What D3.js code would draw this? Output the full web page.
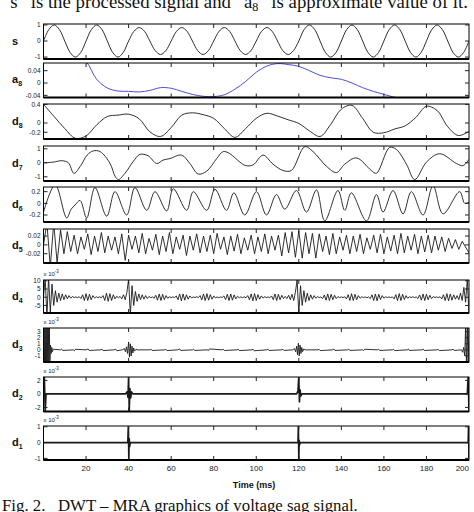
<!DOCTYPE html>
<html>
<head>
<meta charset="utf-8">
<script src="https://cdn.jsdelivr.net/npm/d3@7"></script>
<style>
  body { margin: 0; background: #fff; }
  svg { display: block; }
</style>
</head>
<body>
<div id="chart"></div>
<script>
// ---------- data ----------
// time axis (ms)
var xTicks = [20, 40, 60, 80, 100, 120, 140, 160, 180, 200];

// s : sampled every 2.5 ms, sag from 40 to 120 ms
var sStep = 2.5;
var sValues = [
  0, .71, 1, .71, 0, -.71, -1, -.71,
  0, .71, 1, .71, 0, -.71, -1, -.71,
  0, .6, .84, .6, 0, -.6, -.84, -.6,
  0, .6, .84, .6, 0, -.6, -.84, -.6,
  0, .6, .84, .6, 0, -.6, -.84, -.6,
  0, .6, .84, .6, 0, -.6, -.84, -.6,
  0, .71, 1, .71, 0, -.71, -1, -.71,
  0, .71, 1, .71, 0, -.71, -1, -.71,
  0, .71, 1, .71, 0, -.71, -1, -.71,
  0, .71, 1, .71, 0, -.71, -1, -.71,
  0
];
var sTicks = [1, 0, -1];

// a8 : every 5 ms
var a8Step = 5;
var a8Values = [0.2, 0.16, 0.12, 0.09, 0.07, 0.012, -0.016, -0.026, -0.027, -0.029,
  -0.024, -0.015, -0.017, -0.027, -0.037, -0.043, -0.044, -0.038, -0.02, 0.005,
  0.035, 0.055, 0.063, 0.06, 0.054, 0.04, 0.025, 0.017, 0.012, 0.0,
  -0.015, -0.027, -0.037, -0.046, -0.05, -0.052, -0.052, -0.052, -0.052, -0.051, -0.045];
var a8Ticks = [0.04, 0, -0.04];

// d8 : every 5 ms
var d8Step = 5;
var d8Values = [0.40, 0.14, -0.12, -0.33, -0.28, -0.04, 0.14, 0.17, 0.19, 0.09,
  -0.19, -0.29, -0.1, 0.17, 0.22, 0.18, 0.1, -0.12, -0.31, -0.12,
  0.1, 0.21, 0.15, 0.07, -0.01, -0.17, -0.29, -0.03, 0.3, 0.38,
  0.1, -0.2, -0.21, -0.13, -0.06, 0.12, 0.36, 0.27, -0.08, -0.27, -0.18];
var d8Ticks = [0.4, 0, -0.2];

// d7 : [ms, value]
var d7Points = [[0, 0], [4.7, 0.05], [8.6, 0.15], [11.7, 0], [14.3, -0.75], [17.5, -0.2], [20.5, 0.55],
  [23.4, 0.85], [26.6, 0.8], [31.3, -0.05], [33.6, -0.95], [35.2, -1.2], [38.3, -0.75], [42.2, 0.1],
  [45.3, 0.6], [49.2, 0.5], [53.2, -0.05], [56.3, 0.2], [59.4, 0.3], [64.9, 0.55], [68.8, -0.05],
  [72.7, -0.8], [76.7, -0.6], [81.4, 0.3], [84.5, 0.8], [87.6, 0.65], [92.3, 0.05], [95, -0.2],
  [98.5, -0.15], [103.2, 0.55], [107.9, -0.1], [112.6, -0.55], [116.5, -0.55], [122.8, 1.15],
  [126.7, 0.8], [133, -0.25], [137.7, -0.7], [141.6, -0.1], [147.1, 0.35], [154.1, -0.55],
  [156.5, -0.75], [162.7, 1.1], [165.9, 0.95], [170.6, -0.1], [174.5, -1.2], [180, 0.05],
  [186.2, 0.65], [194.1, -0.05], [197.2, -0.2], [200, 0.25]];
var d7Ticks = [1, 0, -1];

// d6 : [ms, value]
var d6Points = [[0, -0.15], [5.5, 0.32], [10.9, -0.25], [13, -0.1], [14.8, -0.03], [17.2, 0.05],
  [20.3, -0.25], [24.2, 0.27], [29.7, -0.22], [33.6, 0.2], [39.1, -0.2], [43, 0.27], [48.5, -0.12],
  [52.4, 0.2], [57.9, -0.13], [61, 0.25], [67.3, -0.12], [70.4, 0.2], [76.7, -0.12], [80.6, 0.24],
  [86, -0.12], [89.5, 0.18], [94.6, -0.2], [100.1, 0.2], [104.8, -0.2], [109.5, 0.15], [113.4, -0.1],
  [118.9, 0.22], [123.6, -0.15], [128.3, 0.23], [132.2, -0.3], [138.4, 0.22], [141.6, -0.12],
  [144.7, 0.18], [151.8, -0.3], [156.5, 0.15], [159.6, -0.15], [164.3, 0.22], [169, -0.18],
  [172.9, 0.2], [178.4, -0.2], [183.1, 0.3], [187.8, -0.18], [195.6, 0.2], [198, 0.0], [200, 0.02]];
var d6Ticks = [0.2, 0, -0.2];

// d5 : every 1.6 ms (peaks / troughs)
var d5Step = 1.6;
var d5Values = [0, 0.05, -0.05, 0.05, -0.04, 0.034, -0.02, 0.03, -0.015, 0.022,
  -0.02, 0.018, -0.01, 0.025, -0.022, 0.02, -0.015, 0.028, -0.018, 0.02,
  -0.012, 0.018, -0.02, 0.025, -0.035, 0.022, -0.01, 0.02, -0.018, 0.026,
  -0.02, 0.015, -0.012, 0.024, -0.022, 0.02, -0.015, 0.028, -0.02, 0.018,
  -0.01, 0.022, -0.024, 0.02, -0.012, 0.025, -0.018, 0.02, -0.015, 0.022,
  -0.02, 0.026, -0.01, 0.018, -0.022, 0.02, -0.014, 0.024, -0.02, 0.016,
  -0.012, 0.022, -0.02, 0.018, -0.015, 0.025, -0.02, 0.02, -0.012, 0.022,
  -0.025, 0.028, -0.018, 0.03, -0.028, 0.032, -0.03, 0.028, -0.02, 0.026,
  -0.03, 0.025, -0.015, 0.02, -0.022, 0.026, -0.02, 0.018, -0.012, 0.022,
  -0.02, 0.02, -0.015, 0.024, -0.02, 0.016, -0.01, 0.022, -0.018, 0.024,
  -0.02, 0.018, -0.014, 0.022, -0.02, 0.026, -0.018, 0.02, -0.012, 0.024,
  -0.02, 0.02, -0.016, 0.022, -0.018, 0.02, -0.012, 0.018, -0.015, 0.015,
  -0.008, 0.012, -0.01, 0.008, -0.005, -0.018];
var d5Ticks = [0.02, 0, -0.02];

// d4 : every 0.8 ms, in units of 1e-3
var d4Step = 0.8;
var d4Values = [0, 12, -12, 12, -9, 8, -5, 4, -3, 2.5, -2, 2, -1.5, 1.5, -1, 1, -0.6, 0.5,
  -0.2, 0.2, -0.2, 0.3,
  -0.8, 1.5, -2, 2.2, -2, 1.8, -1.5, 1, -0.5, 0.3,
  -0.2, 0.2, -0.3,
  1, -2, 2.5, -2.5, 2.2, -2, 1.5, -1, 0.6, -0.3,
  0.5, -1, 1.5, -1.5,
  3, 11, -11, 7, -5, 3.5, -2.5, 2, -1.5,
  1.5, -1.2, 1, -0.8, 0.5, -0.3, 0.2,
  -0.6, 1.2, -1.8, 2, -2, 1.8, -1.5, 1, -0.6, 0.3,
  -0.2, 0.2, -0.2,
  0.8, -1.5, 2, -2.2, 2, -1.8, 1.5, -1.2, 0.8, -0.4, 0.2,
  -0.2, 0.3, -0.2,
  1, -1.6, 2, -2, 2.2, -1.8, 1.6, -1.2, 0.8, -0.4, 0.2,
  -0.3, 0.2, -0.2,
  0.8, -1.4, 1.8, -2, 2, -1.8, 1.4, -1, 0.6, -0.3, 0.2,
  -0.2, 0.2, -0.3,
  1, -1.5, 2, -2.2, 2.2, -2, 1.6, -1.2, 0.8, -0.5, 0.3,
  -0.2, 0.2, -0.3,
  0.8, -1.5, 2, -2, 1.8, -1.5, 1.2, -0.8, 0.5,
  -0.8, 1.2, -1.5, 1.8, -2,
  3, 10.5, -10, 7, -5, 4, -3, 2.5, -2,
  1.5, -1.2, 1, -0.6, 0.4, -0.2, 0.2,
  -0.8, 1.4, -1.8, 2, -2, 1.8, -1.5, 1.2, -0.8, 0.4, -0.2,
  0.2, -0.2, 0.3,
  -1, 1.6, -2, 2.2, -2, 1.8, -1.5, 1, -0.6, 0.3, -0.2,
  0.2, -0.3, 0.2,
  -0.8, 1.5, -2, 2, -2.2, 1.8, -1.4, 1, -0.6, 0.3, -0.2,
  0.2, -0.2, 0.2,
  -1, 1.6, -2, 2.2, -2, 1.8, -1.4, 1, -0.6, 0.3, -0.2,
  0.3, -0.2, 0.2,
  -0.8, 1.4, -1.8, 2, -2, 1.8, -1.5, 1.2, -0.8, 0.4, -0.2,
  0.2, -0.2, 0.3,
  -1, 1.5, -2, 2.2, -2.2, 2, -1.8, 1.5, -1.2, 1,
  -1.5, 2.5, -2, 6, -3, 11, -11];
var d4Ticks = [10, 5, 0, -5];

// d3 : [ms, value], units of 1e-3
var d3Points = [[0, 0], [0.25, 3.8], [0.5, -2.2], [0.75, 3.8], [1, -2.2], [1.25, 3.8], [1.5, -2.2],
  [1.75, 3.8], [2, -2.2], [2.25, 3.8], [2.5, -2.2], [2.75, 3.8], [3, -2.2], [3.3, 0.8], [3.6, -0.6],
  [3.9, 0.4], [4.2, -0.3], [4.6, 0.1], [8, 0], [8.5, 0.15], [9, -0.1], [14, 0], [14.5, -0.15], [15, 0.1],
  [20, 0], [21, 0.15], [21.5, -0.1], [27, 0], [27.5, 0.12], [28, -0.12], [33, 0], [34, 0.1], [34.5, -0.15],
  [37, 0], [38, 0.2], [38.5, -0.3], [39, 0.5], [39.5, -0.6], [40, 1.3], [40.4, -1.2], [40.8, 1],
  [41.2, -1], [41.6, 0.6], [42, -0.5], [42.4, 0.3], [42.8, -0.2], [43.5, 0.1], [44, 0],
  [50, 0], [50.5, 0.12], [51, -0.1], [57, 0], [57.5, 0.1], [58, -0.12], [63, 0], [64, 0.15], [64.5, -0.1],
  [70, 0], [70.5, 0.12], [71, -0.1], [77, 0], [77.5, -0.12], [78, 0.15], [84, 0], [84.5, 0.1], [85, -0.1],
  [91, 0], [91.5, 0.12], [92, -0.12], [98, 0], [98.5, 0.1], [99, -0.15], [105, 0], [105.5, 0.12],
  [106, -0.1], [112, 0], [112.5, 0.1], [113, -0.1], [117, 0], [118, 0.2], [118.5, -0.3], [119, 0.6],
  [119.4, -0.8], [119.8, 1.1], [120.2, -1], [120.6, 0.8], [121, -0.6], [121.4, 0.4], [121.8, -0.3],
  [122.3, 0.15], [123, 0], [129, 0], [129.5, 0.1], [130, -0.12], [136, 0], [136.5, 0.15], [137, -0.1],
  [143, 0], [143.5, 0.12], [144, -0.1], [150, 0], [150.5, -0.12], [151, 0.1], [157, 0], [157.5, 0.12],
  [158, -0.1], [164, 0], [164.5, 0.1], [165, -0.12], [171, 0], [171.5, 0.15], [172, -0.1], [178, 0],
  [178.5, 0.12], [179, -0.1], [185, 0], [185.5, 0.1], [186, -0.12], [192, 0], [192.5, 0.12], [193, -0.1],
  [196.5, 0], [197, -0.4], [197.5, 0.4], [198, -1], [198.4, 3.8], [198.8, -2.2], [199.2, 3.8],
  [199.6, -2.2], [200, 3.8]];
var d3Ticks = [3, 2, 1, 0, -1];

// d2 : [ms, value], units of 1e-3
var d2Points = [[0, 0], [0.4, 2.7], [0.8, -2.7], [1.2, 0], [38.5, 0], [39.3, 0.3], [39.7, -0.5],
  [40, 2.7], [40.3, -2.7], [40.6, 0.8], [41, -0.6], [41.4, 0.3], [42, 0], [119, 0], [119.6, 0.4],
  [120, 2.7], [120.3, -1.2], [120.6, 0.6], [121, -0.3], [121.5, 0], [199.2, 0], [199.6, 2.7], [200, -2.7]];
var d2Ticks = [2, 0, -2];

// d1 : [ms, value], units of 1e-3
var d1Points = [[0, 0], [39.6, 0], [39.9, 1.2], [40.1, -1.2], [40.3, 0.25], [40.5, -0.25], [40.8, 0],
  [119.6, 0], [119.8, 1.2], [120, -1.2], [120.2, 0.15], [120.4, -0.15], [120.6, 0], [199.6, 0],
  [199.8, 1.2], [200, -1.2]];
var d1Ticks = [1, 0, -1];

// ---------- helpers ----------
function stepped(values, step) {
  return values.map(function (v, i) { return [i * step, v]; });
}

// panel setup: label, data, y range, ticks, geometry
var panels = [
  { name: "s", sub: "", pts: stepped(sValues, sStep), dom: [-1.12, 1.06], ticks: sTicks, top: 24, h: 35, curve: d3.curveCatmullRom },
  { name: "a", sub: "8", pts: stepped(a8Values, a8Step), dom: [-0.047, 0.065], ticks: a8Ticks, top: 63, h: 34.5, curve: d3.curveCatmullRom, color: "#3a3ad2" },
  { name: "d", sub: "8", pts: stepped(d8Values, d8Step), dom: [-0.345, 0.41], ticks: d8Ticks, top: 104, h: 35, curve: d3.curveCatmullRom },
  { name: "d", sub: "7", pts: d7Points, dom: [-1.3, 1.2], ticks: d7Ticks, top: 146, h: 35, curve: d3.curveCatmullRom },
  { name: "d", sub: "6", pts: d6Points, dom: [-0.32, 0.28], ticks: d6Ticks, top: 187, h: 35, curve: d3.curveCatmullRom },
  { name: "d", sub: "5", pts: stepped(d5Values, d5Step), dom: [-0.041, 0.036], ticks: d5Ticks, top: 229, h: 34, curve: d3.curveLinear },
  { name: "d", sub: "4", pts: stepped(d4Values, d4Step), dom: [-9.6, 10.5], ticks: d4Ticks, top: 280, h: 33, curve: d3.curveLinear, exp: true },
  { name: "d", sub: "3", pts: d3Points, dom: [-2, 3.6], ticks: d3Ticks, top: 328, h: 34, curve: d3.curveLinear, exp: true },
  { name: "d", sub: "2", pts: d2Points, dom: [-2.6, 2.5], ticks: d2Ticks, top: 377, h: 34.5, curve: d3.curveLinear, exp: true, thick: true },
  { name: "d", sub: "1", pts: d1Points, dom: [-1.1, 1.05], ticks: d1Ticks, top: 426, h: 34, curve: d3.curveLinear, exp: true, thick: true }
];

var W = 474, H = 512;
var svg = d3.select("#chart").append("svg")
  .attr("width", W)
  .attr("height", H);

var x = d3.scaleLinear().domain([0, 200]).range([43.5, 469]);
var x0 = x.range()[0], x1 = x.range()[1];
var tickLen = 4;

// top text (cut by the page edge, as in the scan)
var topText = svg.append("text")
  .attr("x", 2).attr("y", 8)
  .style("font-family", "'Liberation Serif', 'Times New Roman', serif")
  .style("font-size", "18.8px")
  .attr("fill", "#111");
topText.append("tspan").text("\u201Cs\u201D is the processed signal and \u201Ca");
topText.append("tspan").attr("dy", 3).style("font-size", "12px").text("8");
topText.append("tspan").attr("dy", -3).text("\u201D is approximate value of it.");

panels.forEach(function (p, k) {
  var y = d3.scaleLinear().domain(p.dom).range([p.top + p.h, p.top]);
  var g = svg.append("g");

  // clip
  svg.append("clipPath").attr("id", "clip" + k)
    .append("rect")
    .attr("x", x0).attr("y", p.top)
    .attr("width", x1 - x0).attr("height", p.h);

  // signal
  var line = d3.line()
    .x(function (d) { return x(d[0]); })
    .y(function (d) { return y(d[1]); })
    .curve(p.curve);
  g.append("path")
    .attr("clip-path", "url(#clip" + k + ")")
    .attr("d", line(p.pts))
    .attr("fill", "none")
    .attr("stroke", p.color || "#1a1a1a")
    .attr("stroke-width", p.thick ? 1.6 : 0.9)
    .attr("stroke-linejoin", "round");

  // frame
  g.append("rect")
    .attr("x", x0).attr("y", p.top)
    .attr("width", x1 - x0).attr("height", p.h)
    .attr("fill", "none").attr("stroke", "#000").attr("stroke-width", 1);
  g.append("line")
    .attr("x1", x0).attr("x2", x1)
    .attr("y1", p.top + p.h).attr("y2", p.top + p.h)
    .attr("stroke", "#000").attr("stroke-width", 1.8);

  // x ticks (inside, top and bottom)
  xTicks.slice(0, -1).forEach(function (t) {
    g.append("line").attr("x1", x(t)).attr("x2", x(t))
      .attr("y1", p.top).attr("y2", p.top + tickLen)
      .attr("stroke", "#222").attr("stroke-width", 1);
    g.append("line").attr("x1", x(t)).attr("x2", x(t))
      .attr("y1", p.top + p.h - tickLen).attr("y2", p.top + p.h)
      .attr("stroke", "#222").attr("stroke-width", 1);
  });

  // y ticks (inside, left and right) + labels
  p.ticks.forEach(function (v) {
    g.append("line").attr("x1", x0).attr("x2", x0 + tickLen)
      .attr("y1", y(v)).attr("y2", y(v))
      .attr("stroke", "#222").attr("stroke-width", 1);
    g.append("line").attr("x1", x1 - tickLen).attr("x2", x1)
      .attr("y1", y(v)).attr("y2", y(v))
      .attr("stroke", "#222").attr("stroke-width", 1);
    g.append("text")
      .attr("x", x0 - 3).attr("y", y(v))
      .attr("dy", "0.35em")
      .attr("text-anchor", "end")
      .style("font-family", "'Liberation Sans', Arial, sans-serif")
      .style("font-size", "6.5px")
      .attr("fill", "#222")
      .text(String(v));
  });

  // x 10^-3 multiplier
  if (p.exp) {
    var ex = g.append("text")
      .attr("x", x0).attr("y", p.top - 4)
      .style("font-family", "'Liberation Sans', Arial, sans-serif")
      .style("font-size", "6px")
      .attr("fill", "#222");
    ex.append("tspan").text("x 10");
    ex.append("tspan").attr("dy", -3).style("font-size", "4.5px").text("-3");
  }

  // panel name on the left
  var lab = g.append("text")
    .attr("x", 12).attr("y", p.top + p.h / 2 + 3)
    .style("font-family", "'Liberation Sans', Arial, sans-serif")
    .style("font-weight", "bold")
    .style("font-size", "11px")
    .attr("fill", "#111");
  lab.append("tspan").text(p.name);
  if (p.sub) {
    lab.append("tspan").attr("dy", 3).style("font-size", "7px").text(p.sub);
  }
});

// x axis labels under last panel (last one kept inside the page)
var last = panels[panels.length - 1];
xTicks.forEach(function (t) {
  svg.append("text")
    .attr("x", Math.min(x(t), 473))
    .attr("y", last.top + last.h + 11)
    .attr("text-anchor", x(t) > 465 ? "end" : "middle")
    .style("font-family", "'Liberation Sans', Arial, sans-serif")
    .style("font-size", "8px")
    .attr("fill", "#222")
    .text(t);
});

svg.append("text")
  .attr("x", 254).attr("y", 488)
  .attr("text-anchor", "middle")
  .style("font-family", "'Liberation Sans', Arial, sans-serif")
  .style("font-weight", "bold")
  .style("font-size", "9px")
  .attr("fill", "#111")
  .text("Time (ms)");

// caption
svg.append("text")
  .attr("x", 2).attr("y", 511)
  .style("font-family", "'Liberation Serif', 'Times New Roman', serif")
  .style("font-size", "16.8px")
  .style("white-space", "pre")
  .attr("fill", "#111")
  .text("Fig. 2.   DWT \u2013 MRA graphics of voltage sag signal.");
</script>
</body>
</html>
